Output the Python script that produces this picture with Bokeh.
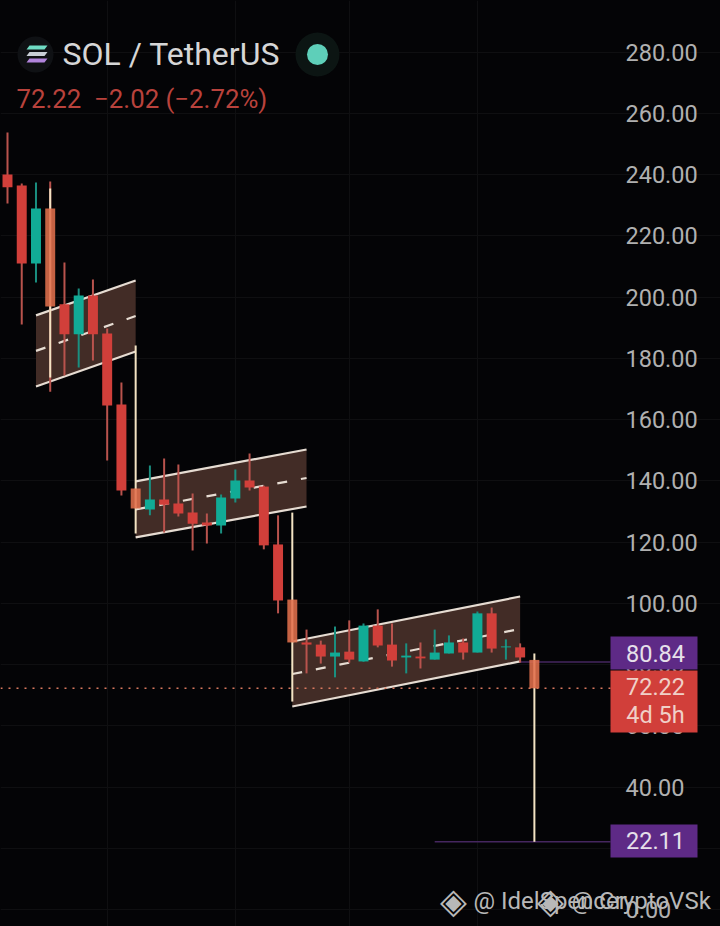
from bokeh.plotting import figure
from bokeh.embed import file_html
from bokeh.resources import INLINE
from bokeh.models import LinearAxis, FixedTicker, PrintfTickFormatter, Range1d, Label

# ---------- data (prices) ----------
opens  = [240.0,236.4,210.9,228.9,197.6,187.8,200.5,188.1,164.9,137.5,130.6,133.9,132.6,129.6,126.4,125.4,134.2,140.1,138.1,119.2,101.2,87.2,86.5,82.6,84.2,81.0,92.7,86.5,82.3,82.6,81.6,83.6,87.2,83.9,96.7,85.6,85.6,81.5]
closes = [235.8,210.9,228.9,196.9,187.8,200.5,187.8,164.6,136.8,130.9,133.9,132.2,129.3,126.0,125.4,134.5,140.1,137.8,118.9,100.9,87.2,86.5,82.6,83.9,81.6,92.7,86.2,81.3,82.9,82.0,83.9,87.2,83.9,96.7,85.2,85.9,82.3,72.22]
highs  = [253.7,237.1,237.4,237.7,211.3,202.8,205.7,189.7,172.1,137.5,145.0,147.3,145.3,135.8,129.3,135.5,143.7,148.9,138.4,128.7,101.2,91.4,87.8,92.4,94.4,93.4,98.0,93.4,86.9,87.2,91.4,89.5,88.5,97.3,98.6,88.2,86.9,81.5]
lows   = [230.5,191.0,204.7,169.1,174.4,177.0,179.3,146.6,135.2,130.9,128.7,123.1,128.3,117.2,119.5,122.8,132.9,136.8,117.6,96.7,87.2,77.1,80.3,75.8,80.6,80.9,85.6,79.3,77.1,78.7,81.6,83.6,81.6,83.9,83.9,81.6,80.6,72.22]
spike_idx  = [3, 9, 20, 37]
spike_high = [235.4, 184.2, 129.6, 83.6]
spike_low  = [173.7, 122.8, 67.9, 22.11]
channel_x0 = [2, 9, 20]
channel_x1 = [9, 21, 36]
channel_top0 = [194.0, 139.8, 87.5]
channel_top1 = [205.4, 150.2, 102.2]
channel_bot0 = [170.8, 121.5, 66.3]
channel_bot1 = [182.2, 131.6, 81.0]
tick_values = [0,20,40,60,80,100,120,140,160,180,200,220,240,260,280]
v_grid_idx = [7, 16, 24, 33]
last_price = 72.22
upper_level = 80.84
lower_level = 22.11
upper_level_start = 36
lower_level_start = 30

# ---------- colours ----------
BG = "#040406"; GRID = "#0f0f11"; RED = "#d13f3a"; RED_W = "#b9534d"; TEAL = "#11ab96"; TEAL_W = "#1a8f80"
ORANGE = "#e0704c"; CREAM = "#e6dcd2"; SPIKE = "#f3e3c3"; BROWN = "#422c26"; PURPLE = "#5e2a86"; PURPLE_L = "#45265f"; AXIS = "#b0b0b0"

W, H, FW = 720, 926, 610
BAR = 14.24; X0 = 7.0; PXP = 3.0625; Y280 = 51.5

def sx(px): return (px - X0) / BAR
def sy(py): return 280 - (py - Y280) / PXP

xr = Range1d(sx(0), sx(W))
yr = Range1d(sy(H), sy(0))
x_panel = sx(FW)

p = figure(width=W, height=H, x_range=xr, y_range=yr, output_backend="svg", toolbar_location=None,
           background_fill_color=BG, border_fill_color=BG, outline_line_color=None,
           min_border=0, x_axis_location=None, y_axis_location=None)
p.xgrid.ticker = FixedTicker(ticks=v_grid_idx)
p.ygrid.ticker = FixedTicker(ticks=tick_values)
p.xgrid.grid_line_color = GRID; p.ygrid.grid_line_color = GRID
p.xgrid.grid_line_width = 1; p.ygrid.grid_line_width = 1

ax = LinearAxis(ticker=FixedTicker(ticks=tick_values), formatter=PrintfTickFormatter(format="%.2f"))
ax.axis_line_color = None; ax.major_tick_line_color = None; ax.minor_tick_line_color = None
ax.major_label_standoff = -101
ax.major_label_text_color = AXIS; ax.major_label_text_font = "Roboto"; ax.major_label_text_font_size = "23.5px"
p.add_layout(ax, "right")

# channels
for x0, x1, t0, t1, b0, b1 in zip(channel_x0, channel_x1, channel_top0, channel_top1, channel_bot0, channel_bot1):
    p.patch([x0, x1, x1, x0], [t0, t1, b1, b0], fill_color=BROWN, line_color=None)
    p.line([x0, x1], [t0, t1], line_color=CREAM, line_width=2.2)
    p.line([x0, x1], [b0, b1], line_color=CREAM, line_width=2.2)
    p.line([x0, x1], [(t0 + b0) / 2, (t1 + b1) / 2], line_color=CREAM, line_width=2.2, line_dash="10 14")

# level lines and last price
p.segment([upper_level_start], [upper_level], [x_panel], [upper_level], line_color=PURPLE_L, line_width=1.5)
p.segment([lower_level_start], [lower_level], [x_panel], [lower_level], line_color=PURPLE_L, line_width=1.5)
p.segment([xr.start], [last_price], [x_panel], [last_price], line_color="#d9785f", line_width=1.5, line_dash="2 6")

# candles
idx = list(range(len(opens)))
spk = set(spike_idx)
wick_c = [TEAL_W if c > o else RED_W for o, c in zip(opens, closes)]
body_c = [ORANGE if i in spk else (TEAL if c > o else RED) for i, o, c in zip(idx, opens, closes)]
p.segment(idx, highs, idx, lows, line_color=wick_c, line_width=2)
p.segment(spike_idx, spike_high, spike_idx, spike_low, line_color=SPIKE, line_width=2)
p.vbar(x=idx, bottom=[min(o, c) for o, c in zip(opens, closes)], top=[max(o, c) for o, c in zip(opens, closes)],
       width=0.7, fill_color=body_c, line_color=None, fill_alpha=[0.88 if i in spk else 1 for i in idx])

# header decoration
p.scatter([sx(35)], [sy(54)], size=36, color="#0f1114", line_color=None)
p.scatter([sx(317)], [sy(54)], size=44, color="#0c1513", line_color=None)
p.scatter([sx(317)], [sy(54)], size=21, color="#5ecfb9", line_color=None)
for py, col in [(47, "#6fdcc4"), (53.5, "#c9cfd6"), (60, "#b184dc")]:
    p.patch([sx(29), sx(47), sx(44), sx(26)], [sy(py - 2), sy(py - 2), sy(py + 2), sy(py + 2)], fill_color=col, line_color=None)

# price tag boxes
for top, bot, col in [(636, 669, PURPLE), (670, 732, RED), (824, 857, PURPLE)]:
    p.quad(left=[sx(610)], right=[sx(697)], top=[sy(top)], bottom=[sy(bot)], fill_color=col, line_color=None, level="overlay")

def lab(text, px, py, size, color, align="left", font="Roboto"):
    l = Label(x=px, y=H - py, x_units="screen", y_units="screen", text=text, text_font=font, text_font_size=size,
              text_color=color, text_align=align, text_baseline="middle", level="overlay")
    p.add_layout(l)

lab("SOL / TetherUS", 62, 53, "32px", "#d6d6d6")
lab(f"{last_price:.2f}\u00a0\u00a0\u22122.02 (\u22122.72%)", 16, 98, "25.8px", "#b9423c")

lab(f"{upper_level:.2f}", 655, 653, "23.5px", "#e6e0ea", "center")
lab(f"{last_price:.2f}", 655, 686, "23.5px", "#f0d0c8", "center")
lab("4d 5h", 655, 714, "23.5px", "#f0d0c8", "center")
lab(f"{lower_level:.2f}", 655, 840, "23.5px", "#e6e0ea", "center")

# watermark
wm = "#b8b8b8"
lab("\u25c8", 453, 900, "35px", wm, "center", font="DejaVu Sans")
lab("@ IdelSpencer", 473, 900, "24px", wm)
lab("\u25c8", 550, 900, "35px", wm, "center", font="DejaVu Sans")
lab("@ CryptoVSk", 571, 900, "24px", wm)

html = file_html(p, INLINE)
html = html.replace("</head>", "<style>html,body{margin:0;padding:0;background:#040406;overflow:hidden}</style></head>", 1)
open("out.html", "w").write(html)
